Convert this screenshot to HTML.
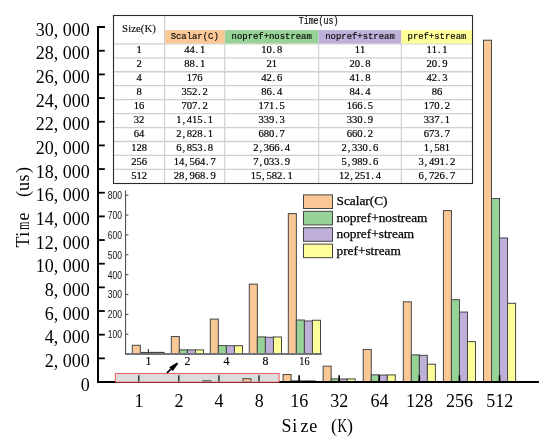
<!DOCTYPE html><html><head><meta charset="utf-8"><style>html,body{margin:0;padding:0;background:#fff;width:550px;height:446px;overflow:hidden}svg{display:block}.serif{font-family:"Liberation Serif","Noto Serif CJK SC",serif}.mono{font-family:"Liberation Mono","Noto Sans CJK SC",monospace}.sans{font-family:"Liberation Sans","Noto Sans CJK SC",sans-serif}</style></head><body>
<svg width="550" height="446" viewBox="0 0 550 446">
<rect width="550" height="446" fill="#fff"/>
<rect x="122.69" y="382.38" width="8.02" height="0.01" fill="#FAC896" stroke="#454545" stroke-width="1"/>
<rect x="130.71" y="382.77" width="8.02" height="0.01" fill="#97D397" stroke="#454545" stroke-width="1"/>
<rect x="138.73" y="382.77" width="8.02" height="0.01" fill="#BFB0DA" stroke="#454545" stroke-width="1"/>
<rect x="146.75" y="382.77" width="8.02" height="0.01" fill="#FFFF99" stroke="#454545" stroke-width="1"/>
<rect x="162.78" y="381.86" width="8.02" height="0.14" fill="#FAC896" stroke="#454545" stroke-width="1"/>
<rect x="170.80" y="382.65" width="8.02" height="0.01" fill="#97D397" stroke="#454545" stroke-width="1"/>
<rect x="178.82" y="382.65" width="8.02" height="0.01" fill="#BFB0DA" stroke="#454545" stroke-width="1"/>
<rect x="186.84" y="382.65" width="8.02" height="0.01" fill="#FFFF99" stroke="#454545" stroke-width="1"/>
<rect x="202.87" y="380.82" width="8.02" height="1.18" fill="#FAC896" stroke="#454545" stroke-width="1"/>
<rect x="210.89" y="382.40" width="8.02" height="0.01" fill="#97D397" stroke="#454545" stroke-width="1"/>
<rect x="218.91" y="382.41" width="8.02" height="0.01" fill="#BFB0DA" stroke="#454545" stroke-width="1"/>
<rect x="226.93" y="382.40" width="8.02" height="0.01" fill="#FFFF99" stroke="#454545" stroke-width="1"/>
<rect x="242.96" y="378.73" width="8.02" height="3.27" fill="#FAC896" stroke="#454545" stroke-width="1"/>
<rect x="250.98" y="381.88" width="8.02" height="0.12" fill="#97D397" stroke="#454545" stroke-width="1"/>
<rect x="259.00" y="381.90" width="8.02" height="0.10" fill="#BFB0DA" stroke="#454545" stroke-width="1"/>
<rect x="267.02" y="381.88" width="8.02" height="0.12" fill="#FFFF99" stroke="#454545" stroke-width="1"/>
<rect x="283.05" y="374.53" width="8.02" height="7.47" fill="#FAC896" stroke="#454545" stroke-width="1"/>
<rect x="291.07" y="380.87" width="8.02" height="1.13" fill="#97D397" stroke="#454545" stroke-width="1"/>
<rect x="299.09" y="380.93" width="8.02" height="1.07" fill="#BFB0DA" stroke="#454545" stroke-width="1"/>
<rect x="307.11" y="380.89" width="8.02" height="1.11" fill="#FFFF99" stroke="#454545" stroke-width="1"/>
<rect x="323.14" y="366.16" width="8.02" height="15.84" fill="#FAC896" stroke="#454545" stroke-width="1"/>
<rect x="331.16" y="378.89" width="8.02" height="3.11" fill="#97D397" stroke="#454545" stroke-width="1"/>
<rect x="339.18" y="378.99" width="8.02" height="3.01" fill="#BFB0DA" stroke="#454545" stroke-width="1"/>
<rect x="347.20" y="378.91" width="8.02" height="3.09" fill="#FFFF99" stroke="#454545" stroke-width="1"/>
<rect x="363.23" y="349.44" width="8.02" height="32.56" fill="#FAC896" stroke="#454545" stroke-width="1"/>
<rect x="371.25" y="374.85" width="8.02" height="7.15" fill="#97D397" stroke="#454545" stroke-width="1"/>
<rect x="379.27" y="375.09" width="8.02" height="6.91" fill="#BFB0DA" stroke="#454545" stroke-width="1"/>
<rect x="387.29" y="374.93" width="8.02" height="7.07" fill="#FFFF99" stroke="#454545" stroke-width="1"/>
<rect x="403.32" y="301.82" width="8.02" height="80.18" fill="#FAC896" stroke="#454545" stroke-width="1"/>
<rect x="411.34" y="354.91" width="8.02" height="27.09" fill="#97D397" stroke="#454545" stroke-width="1"/>
<rect x="419.36" y="355.33" width="8.02" height="26.67" fill="#BFB0DA" stroke="#454545" stroke-width="1"/>
<rect x="427.38" y="364.20" width="8.02" height="17.80" fill="#FFFF99" stroke="#454545" stroke-width="1"/>
<rect x="443.41" y="210.60" width="8.02" height="171.40" fill="#FAC896" stroke="#454545" stroke-width="1"/>
<rect x="451.43" y="299.69" width="8.02" height="82.31" fill="#97D397" stroke="#454545" stroke-width="1"/>
<rect x="459.45" y="312.04" width="8.02" height="69.96" fill="#BFB0DA" stroke="#454545" stroke-width="1"/>
<rect x="467.47" y="341.60" width="8.02" height="40.40" fill="#FFFF99" stroke="#454545" stroke-width="1"/>
<rect x="483.50" y="40.20" width="8.02" height="341.80" fill="#FAC896" stroke="#454545" stroke-width="1"/>
<rect x="491.52" y="198.56" width="8.02" height="183.44" fill="#97D397" stroke="#454545" stroke-width="1"/>
<rect x="499.54" y="237.97" width="8.02" height="144.03" fill="#BFB0DA" stroke="#454545" stroke-width="1"/>
<rect x="507.56" y="303.32" width="8.02" height="78.68" fill="#FFFF99" stroke="#454545" stroke-width="1"/>
<rect x="99" y="383" width="445" height="8" fill="#fff"/>
<line x1="138.73" y1="375.3" x2="138.73" y2="382" stroke="#000" stroke-width="1.6"/>
<line x1="178.82" y1="375.3" x2="178.82" y2="382" stroke="#000" stroke-width="1.6"/>
<line x1="218.91" y1="375.3" x2="218.91" y2="382" stroke="#000" stroke-width="1.6"/>
<line x1="259.00" y1="375.3" x2="259.00" y2="382" stroke="#000" stroke-width="1.6"/>
<line x1="299.09" y1="375.3" x2="299.09" y2="382" stroke="#000" stroke-width="1.6"/>
<line x1="339.18" y1="375.3" x2="339.18" y2="382" stroke="#000" stroke-width="1.6"/>
<line x1="379.27" y1="375.3" x2="379.27" y2="382" stroke="#000" stroke-width="1.6"/>
<line x1="419.36" y1="375.3" x2="419.36" y2="382" stroke="#000" stroke-width="1.6"/>
<line x1="459.45" y1="375.3" x2="459.45" y2="382" stroke="#000" stroke-width="1.6"/>
<line x1="499.54" y1="375.3" x2="499.54" y2="382" stroke="#000" stroke-width="1.6"/>
<path d="M104.8 27.1 H98 V382 H538.9" fill="none" stroke="#000" stroke-width="2"/>
<line x1="98" y1="382.00" x2="104.8" y2="382.00" stroke="#000" stroke-width="1.8"/>
<line x1="98" y1="358.34" x2="104.8" y2="358.34" stroke="#000" stroke-width="1.8"/>
<line x1="98" y1="334.68" x2="104.8" y2="334.68" stroke="#000" stroke-width="1.8"/>
<line x1="98" y1="311.02" x2="104.8" y2="311.02" stroke="#000" stroke-width="1.8"/>
<line x1="98" y1="287.36" x2="104.8" y2="287.36" stroke="#000" stroke-width="1.8"/>
<line x1="98" y1="263.70" x2="104.8" y2="263.70" stroke="#000" stroke-width="1.8"/>
<line x1="98" y1="240.04" x2="104.8" y2="240.04" stroke="#000" stroke-width="1.8"/>
<line x1="98" y1="216.38" x2="104.8" y2="216.38" stroke="#000" stroke-width="1.8"/>
<line x1="98" y1="192.72" x2="104.8" y2="192.72" stroke="#000" stroke-width="1.8"/>
<line x1="98" y1="169.06" x2="104.8" y2="169.06" stroke="#000" stroke-width="1.8"/>
<line x1="98" y1="145.40" x2="104.8" y2="145.40" stroke="#000" stroke-width="1.8"/>
<line x1="98" y1="121.74" x2="104.8" y2="121.74" stroke="#000" stroke-width="1.8"/>
<line x1="98" y1="98.08" x2="104.8" y2="98.08" stroke="#000" stroke-width="1.8"/>
<line x1="98" y1="74.42" x2="104.8" y2="74.42" stroke="#000" stroke-width="1.8"/>
<line x1="98" y1="50.76" x2="104.8" y2="50.76" stroke="#000" stroke-width="1.8"/>
<line x1="98" y1="27.10" x2="104.8" y2="27.10" stroke="#000" stroke-width="1.8"/>
<rect x="115.4" y="373.5" width="163.7" height="8.7" fill="#dcdcdc" stroke="rgba(235,50,50,0.7)" stroke-width="1.1"/>
<clipPath id="rc"><rect x="116" y="374" width="162.5" height="7.5"/></clipPath><g clip-path="url(#rc)">
<line x1="138.73" y1="375.3" x2="138.73" y2="382" stroke="#333" stroke-width="1.5"/>
<line x1="178.82" y1="375.3" x2="178.82" y2="382" stroke="#333" stroke-width="1.5"/>
<rect x="202.87" y="380.82" width="8.02" height="1.18" fill="#FAC896" stroke="#454545" stroke-width="1"/>
<line x1="218.91" y1="375.3" x2="218.91" y2="382" stroke="#333" stroke-width="1.5"/>
<rect x="242.96" y="378.73" width="8.02" height="3.27" fill="#FAC896" stroke="#454545" stroke-width="1"/>
<line x1="259.00" y1="375.3" x2="259.00" y2="382" stroke="#333" stroke-width="1.5"/>
</g>
<text class="serif" x="89.8" y="390.60" font-size="18" text-anchor="end" fill="#000">0</text>
<text class="serif" x="89.8" y="366.94" font-size="18" text-anchor="end" fill="#000">2,<tspan dx="4.5">000</tspan></text>
<text class="serif" x="89.8" y="343.28" font-size="18" text-anchor="end" fill="#000">4,<tspan dx="4.5">000</tspan></text>
<text class="serif" x="89.8" y="319.62" font-size="18" text-anchor="end" fill="#000">6,<tspan dx="4.5">000</tspan></text>
<text class="serif" x="89.8" y="295.96" font-size="18" text-anchor="end" fill="#000">8,<tspan dx="4.5">000</tspan></text>
<text class="serif" x="89.8" y="272.30" font-size="18" text-anchor="end" fill="#000">10,<tspan dx="4.5">000</tspan></text>
<text class="serif" x="89.8" y="248.64" font-size="18" text-anchor="end" fill="#000">12,<tspan dx="4.5">000</tspan></text>
<text class="serif" x="89.8" y="224.98" font-size="18" text-anchor="end" fill="#000">14,<tspan dx="4.5">000</tspan></text>
<text class="serif" x="89.8" y="201.32" font-size="18" text-anchor="end" fill="#000">16,<tspan dx="4.5">000</tspan></text>
<text class="serif" x="89.8" y="177.66" font-size="18" text-anchor="end" fill="#000">18,<tspan dx="4.5">000</tspan></text>
<text class="serif" x="89.8" y="154.00" font-size="18" text-anchor="end" fill="#000">20,<tspan dx="4.5">000</tspan></text>
<text class="serif" x="89.8" y="130.34" font-size="18" text-anchor="end" fill="#000">22,<tspan dx="4.5">000</tspan></text>
<text class="serif" x="89.8" y="106.68" font-size="18" text-anchor="end" fill="#000">24,<tspan dx="4.5">000</tspan></text>
<text class="serif" x="89.8" y="83.02" font-size="18" text-anchor="end" fill="#000">26,<tspan dx="4.5">000</tspan></text>
<text class="serif" x="89.8" y="59.36" font-size="18" text-anchor="end" fill="#000">28,<tspan dx="4.5">000</tspan></text>
<text class="serif" x="89.8" y="35.70" font-size="18" text-anchor="end" fill="#000">30,<tspan dx="4.5">000</tspan></text>
<text class="serif" x="138.88" y="406.8" font-size="18" text-anchor="middle" fill="#000">1</text>
<text class="serif" x="178.97" y="406.8" font-size="18" text-anchor="middle" fill="#000">2</text>
<text class="serif" x="219.06" y="406.8" font-size="18" text-anchor="middle" fill="#000">4</text>
<text class="serif" x="259.15" y="406.8" font-size="18" text-anchor="middle" fill="#000">8</text>
<text class="serif" x="299.24" y="406.8" font-size="18" text-anchor="middle" fill="#000">16</text>
<text class="serif" x="339.33" y="406.8" font-size="18" text-anchor="middle" fill="#000">32</text>
<text class="serif" x="379.42" y="406.8" font-size="18" text-anchor="middle" fill="#000">64</text>
<text class="serif" x="419.51" y="406.8" font-size="18" text-anchor="middle" fill="#000">128</text>
<text class="serif" x="459.60" y="406.8" font-size="18" text-anchor="middle" fill="#000">256</text>
<text class="serif" x="499.69" y="406.8" font-size="18" text-anchor="middle" fill="#000">512</text>
<text class="serif" y="431.8" font-size="18" fill="#000"><tspan x="281.4">S</tspan><tspan x="292.25">i</tspan><tspan x="300.45">z</tspan><tspan x="309.25">e</tspan> <tspan x="331.05">(</tspan><tspan x="337.5" textLength="9.5" lengthAdjust="spacingAndGlyphs">K</tspan><tspan x="347.0">)</tspan></text>
<text class="serif" transform="translate(29.3 247.6) rotate(-90)" y="0" font-size="18" fill="#000"><tspan x="0">T</tspan><tspan x="10.8">i</tspan><tspan x="17.75" textLength="8.1" lengthAdjust="spacingAndGlyphs">m</tspan><tspan x="27.05">e</tspan> <tspan x="50.6">(</tspan><tspan x="56.65">u</tspan><tspan x="66.04">s</tspan><tspan x="74.6">)</tspan></text>
<rect x="132.30" y="345.30" width="8.05" height="8.76" fill="#FAC896" stroke="#454545" stroke-width="1"/>
<rect x="140.20" y="351.92" width="8.35" height="2.14" fill="#454545"/>
<rect x="148.25" y="351.88" width="8.35" height="2.18" fill="#454545"/>
<rect x="156.30" y="351.86" width="8.35" height="2.20" fill="#454545"/>
<rect x="171.30" y="336.57" width="8.05" height="17.49" fill="#FAC896" stroke="#454545" stroke-width="1"/>
<rect x="179.35" y="349.89" width="8.05" height="4.17" fill="#97D397" stroke="#454545" stroke-width="1"/>
<rect x="187.40" y="349.93" width="8.05" height="4.13" fill="#BFB0DA" stroke="#454545" stroke-width="1"/>
<rect x="195.45" y="349.91" width="8.05" height="4.15" fill="#FFFF99" stroke="#454545" stroke-width="1"/>
<rect x="210.30" y="319.11" width="8.05" height="34.95" fill="#FAC896" stroke="#454545" stroke-width="1"/>
<rect x="218.35" y="345.60" width="8.05" height="8.46" fill="#97D397" stroke="#454545" stroke-width="1"/>
<rect x="226.40" y="345.76" width="8.05" height="8.30" fill="#BFB0DA" stroke="#454545" stroke-width="1"/>
<rect x="234.45" y="345.66" width="8.05" height="8.40" fill="#FFFF99" stroke="#454545" stroke-width="1"/>
<rect x="249.30" y="284.12" width="8.05" height="69.94" fill="#FAC896" stroke="#454545" stroke-width="1"/>
<rect x="257.35" y="336.90" width="8.05" height="17.16" fill="#97D397" stroke="#454545" stroke-width="1"/>
<rect x="265.40" y="337.30" width="8.05" height="16.76" fill="#BFB0DA" stroke="#454545" stroke-width="1"/>
<rect x="273.45" y="336.98" width="8.05" height="17.08" fill="#FFFF99" stroke="#454545" stroke-width="1"/>
<rect x="288.30" y="213.63" width="8.05" height="140.43" fill="#FAC896" stroke="#454545" stroke-width="1"/>
<rect x="296.35" y="320.01" width="8.05" height="34.05" fill="#97D397" stroke="#454545" stroke-width="1"/>
<rect x="304.40" y="321.00" width="8.05" height="33.06" fill="#BFB0DA" stroke="#454545" stroke-width="1"/>
<rect x="312.45" y="320.26" width="8.05" height="33.80" fill="#FFFF99" stroke="#454545" stroke-width="1"/>
<line x1="125" y1="354.05" x2="321.8" y2="354.05" stroke="#74747c" stroke-width="2"/>
<line x1="148.4" y1="348.9" x2="148.4" y2="353" stroke="#333" stroke-width="1.1"/>
<line x1="125.6" y1="190.4" x2="125.6" y2="354" stroke="#444" stroke-width="1"/>
<line x1="125.6" y1="334.20" x2="128.4" y2="334.20" stroke="#444" stroke-width="1"/>
<text class="sans" x="122" y="338.10" font-size="10.6" text-anchor="end" fill="#111" textLength="14.2" lengthAdjust="spacingAndGlyphs">100</text>
<line x1="125.6" y1="314.35" x2="128.4" y2="314.35" stroke="#444" stroke-width="1"/>
<text class="sans" x="122" y="318.25" font-size="10.6" text-anchor="end" fill="#111" textLength="14.2" lengthAdjust="spacingAndGlyphs">200</text>
<line x1="125.6" y1="294.49" x2="128.4" y2="294.49" stroke="#444" stroke-width="1"/>
<text class="sans" x="122" y="298.39" font-size="10.6" text-anchor="end" fill="#111" textLength="14.2" lengthAdjust="spacingAndGlyphs">300</text>
<line x1="125.6" y1="274.63" x2="128.4" y2="274.63" stroke="#444" stroke-width="1"/>
<text class="sans" x="122" y="278.53" font-size="10.6" text-anchor="end" fill="#111" textLength="14.2" lengthAdjust="spacingAndGlyphs">400</text>
<line x1="125.6" y1="254.78" x2="128.4" y2="254.78" stroke="#444" stroke-width="1"/>
<text class="sans" x="122" y="258.68" font-size="10.6" text-anchor="end" fill="#111" textLength="14.2" lengthAdjust="spacingAndGlyphs">500</text>
<line x1="125.6" y1="234.92" x2="128.4" y2="234.92" stroke="#444" stroke-width="1"/>
<text class="sans" x="122" y="238.82" font-size="10.6" text-anchor="end" fill="#111" textLength="14.2" lengthAdjust="spacingAndGlyphs">600</text>
<line x1="125.6" y1="215.06" x2="128.4" y2="215.06" stroke="#444" stroke-width="1"/>
<text class="sans" x="122" y="218.96" font-size="10.6" text-anchor="end" fill="#111" textLength="14.2" lengthAdjust="spacingAndGlyphs">700</text>
<line x1="125.6" y1="195.20" x2="128.4" y2="195.20" stroke="#444" stroke-width="1"/>
<text class="sans" x="122" y="199.10" font-size="10.6" text-anchor="end" fill="#111" textLength="14.2" lengthAdjust="spacingAndGlyphs">800</text>
<text class="serif" x="148.40" y="365.3" font-size="11.8" text-anchor="middle" fill="#000" stroke="#000" stroke-width="0.15">1</text>
<text class="serif" x="187.40" y="365.3" font-size="11.8" text-anchor="middle" fill="#000" stroke="#000" stroke-width="0.15">2</text>
<text class="serif" x="226.40" y="365.3" font-size="11.8" text-anchor="middle" fill="#000" stroke="#000" stroke-width="0.15">4</text>
<text class="serif" x="265.40" y="365.3" font-size="11.8" text-anchor="middle" fill="#000" stroke="#000" stroke-width="0.15">8</text>
<text class="serif" x="304.40" y="365.3" font-size="11.8" text-anchor="middle" fill="#000" stroke="#000" stroke-width="0.15" textLength="10.2" lengthAdjust="spacingAndGlyphs">16</text>
<line x1="167.5" y1="372.4" x2="171" y2="369.2" stroke="#000" stroke-width="1.8" stroke-linecap="round"/>
<path d="M169.2 367.3 L176.6 362.7 Q178.4 362.6 178 364 L172.8 371.1 Z" fill="#000"/>
<rect x="303.5" y="194.90" width="29" height="13.6" fill="#FAC896" stroke="#454545" stroke-width="1"/>
<text class="serif" x="336.5" y="205.30" font-size="13.3" fill="#000" stroke="#000" stroke-width="0.25">Scalar(C)</text>
<rect x="303.5" y="211.30" width="29" height="13.6" fill="#97D397" stroke="#454545" stroke-width="1"/>
<text class="serif" x="336.5" y="221.70" font-size="13.3" fill="#000" stroke="#000" stroke-width="0.25">nopref+nostream</text>
<rect x="303.5" y="227.70" width="29" height="13.6" fill="#BFB0DA" stroke="#454545" stroke-width="1"/>
<text class="serif" x="336.5" y="238.10" font-size="13.3" fill="#000" stroke="#000" stroke-width="0.25">nopref+stream</text>
<rect x="303.5" y="244.10" width="29" height="13.6" fill="#FFFF99" stroke="#454545" stroke-width="1"/>
<text class="serif" x="336.5" y="254.50" font-size="13.3" fill="#000" stroke="#000" stroke-width="0.25">pref+stream</text>
<rect x="113.5" y="15.5" width="359.0" height="168.00" fill="#fff"/>
<line x1="113.5" y1="43.85" x2="472.5" y2="43.85" stroke="#d0d0d0" stroke-width="1.3"/>
<line x1="113.5" y1="57.80" x2="472.5" y2="57.80" stroke="#d0d0d0" stroke-width="1.3"/>
<line x1="113.5" y1="71.75" x2="472.5" y2="71.75" stroke="#d0d0d0" stroke-width="1.3"/>
<line x1="113.5" y1="85.70" x2="472.5" y2="85.70" stroke="#d0d0d0" stroke-width="1.3"/>
<line x1="113.5" y1="99.65" x2="472.5" y2="99.65" stroke="#d0d0d0" stroke-width="1.3"/>
<line x1="113.5" y1="113.60" x2="472.5" y2="113.60" stroke="#d0d0d0" stroke-width="1.3"/>
<line x1="113.5" y1="127.55" x2="472.5" y2="127.55" stroke="#d0d0d0" stroke-width="1.3"/>
<line x1="113.5" y1="141.50" x2="472.5" y2="141.50" stroke="#d0d0d0" stroke-width="1.3"/>
<line x1="113.5" y1="155.45" x2="472.5" y2="155.45" stroke="#d0d0d0" stroke-width="1.3"/>
<line x1="113.5" y1="169.40" x2="472.5" y2="169.40" stroke="#d0d0d0" stroke-width="1.3"/>
<line x1="164.6" y1="15.5" x2="164.6" y2="183.3" stroke="#d0d0d0" stroke-width="1.2"/>
<line x1="224.8" y1="43.85" x2="224.8" y2="183.3" stroke="#d0d0d0" stroke-width="1.2"/>
<line x1="318.6" y1="43.85" x2="318.6" y2="183.3" stroke="#d0d0d0" stroke-width="1.2"/>
<line x1="401.4" y1="43.85" x2="401.4" y2="183.3" stroke="#d0d0d0" stroke-width="1.2"/>
<rect x="165.20" y="30.1" width="59.60" height="13.40" fill="#FAC896"/>
<rect x="224.80" y="30.1" width="93.80" height="13.40" fill="#97D397"/>
<rect x="318.60" y="30.1" width="82.80" height="13.40" fill="#BFB0DA"/>
<rect x="401.40" y="30.1" width="71.10" height="13.40" fill="#FFFF99"/>
<rect x="113.5" y="15.5" width="359.0" height="168.00" fill="none" stroke="#2a2a2a" stroke-width="1.1"/>
<text class="serif" x="139.05" y="31.8" font-size="10.9" text-anchor="middle" fill="#000" stroke="#000" stroke-width="0.1">Size(K)</text>
<text class="mono" x="318.55" y="24.4" font-size="10.6" text-anchor="middle" fill="#000" stroke="#000" stroke-width="0.15" textLength="39.6" lengthAdjust="spacingAndGlyphs">Time(us)</text>
<text class="mono" x="194.70" y="39.3" font-size="9.8" text-anchor="middle" fill="#000" stroke="#000" stroke-width="0.15" textLength="48.1" lengthAdjust="spacingAndGlyphs">Scalar(C)</text>
<text class="mono" x="271.70" y="39.3" font-size="9.8" text-anchor="middle" fill="#000" stroke="#000" stroke-width="0.15" textLength="80.2" lengthAdjust="spacingAndGlyphs">nopref+nostream</text>
<text class="mono" x="360.00" y="39.3" font-size="9.8" text-anchor="middle" fill="#000" stroke="#000" stroke-width="0.15" textLength="69.5" lengthAdjust="spacingAndGlyphs">nopref+stream</text>
<text class="mono" x="436.95" y="39.3" font-size="9.8" text-anchor="middle" fill="#000" stroke="#000" stroke-width="0.15" textLength="58.8" lengthAdjust="spacingAndGlyphs">pref+stream</text>
<text class="serif" x="136.40" y="53.15" font-size="10.6" fill="#000" stroke="#000" stroke-width="0.2">1</text>
<text class="serif" x="184.17 189.42 195.50 199.92" y="53.15" font-size="10.6" fill="#000" stroke="#000" stroke-width="0.2">44.1</text>
<text class="serif" x="261.18 266.43 272.50 276.93" y="53.15" font-size="10.6" fill="#000" stroke="#000" stroke-width="0.2">10.8</text>
<text class="serif" x="354.73 359.98" y="53.15" font-size="10.6" fill="#000" stroke="#000" stroke-width="0.2">11</text>
<text class="serif" x="426.43 431.68 437.75 442.18" y="53.15" font-size="10.6" fill="#000" stroke="#000" stroke-width="0.2">11.1</text>
<text class="serif" x="136.40" y="67.10" font-size="10.6" fill="#000" stroke="#000" stroke-width="0.2">2</text>
<text class="serif" x="184.17 189.42 195.50 199.92" y="67.10" font-size="10.6" fill="#000" stroke="#000" stroke-width="0.2">88.1</text>
<text class="serif" x="266.43 271.68" y="67.10" font-size="10.6" fill="#000" stroke="#000" stroke-width="0.2">21</text>
<text class="serif" x="349.48 354.73 360.80 365.23" y="67.10" font-size="10.6" fill="#000" stroke="#000" stroke-width="0.2">20.8</text>
<text class="serif" x="426.43 431.68 437.75 442.18" y="67.10" font-size="10.6" fill="#000" stroke="#000" stroke-width="0.2">20.9</text>
<text class="serif" x="136.40" y="81.05" font-size="10.6" fill="#000" stroke="#000" stroke-width="0.2">4</text>
<text class="serif" x="186.80 192.05 197.30" y="81.05" font-size="10.6" fill="#000" stroke="#000" stroke-width="0.2">176</text>
<text class="serif" x="261.18 266.43 272.50 276.93" y="81.05" font-size="10.6" fill="#000" stroke="#000" stroke-width="0.2">42.6</text>
<text class="serif" x="349.48 354.73 360.80 365.23" y="81.05" font-size="10.6" fill="#000" stroke="#000" stroke-width="0.2">41.8</text>
<text class="serif" x="426.43 431.68 437.75 442.18" y="81.05" font-size="10.6" fill="#000" stroke="#000" stroke-width="0.2">42.3</text>
<text class="serif" x="136.40" y="95.00" font-size="10.6" fill="#000" stroke="#000" stroke-width="0.2">8</text>
<text class="serif" x="181.55 186.80 192.05 198.12 202.55" y="95.00" font-size="10.6" fill="#000" stroke="#000" stroke-width="0.2">352.2</text>
<text class="serif" x="261.18 266.43 272.50 276.93" y="95.00" font-size="10.6" fill="#000" stroke="#000" stroke-width="0.2">86.4</text>
<text class="serif" x="349.48 354.73 360.80 365.23" y="95.00" font-size="10.6" fill="#000" stroke="#000" stroke-width="0.2">84.4</text>
<text class="serif" x="431.68 436.93" y="95.00" font-size="10.6" fill="#000" stroke="#000" stroke-width="0.2">86</text>
<text class="serif" x="133.78 139.03" y="108.95" font-size="10.6" fill="#000" stroke="#000" stroke-width="0.2">16</text>
<text class="serif" x="181.55 186.80 192.05 198.12 202.55" y="108.95" font-size="10.6" fill="#000" stroke="#000" stroke-width="0.2">707.2</text>
<text class="serif" x="258.55 263.80 269.05 275.13 279.55" y="108.95" font-size="10.6" fill="#000" stroke="#000" stroke-width="0.2">171.5</text>
<text class="serif" x="346.85 352.10 357.35 363.43 367.85" y="108.95" font-size="10.6" fill="#000" stroke="#000" stroke-width="0.2">166.5</text>
<text class="serif" x="423.80 429.05 434.30 440.38 444.80" y="108.95" font-size="10.6" fill="#000" stroke="#000" stroke-width="0.2">170.2</text>
<text class="serif" x="133.78 139.03" y="122.90" font-size="10.6" fill="#000" stroke="#000" stroke-width="0.2">32</text>
<text class="serif" x="176.30 182.38 186.80 192.05 197.30 203.38 207.80" y="122.90" font-size="10.6" fill="#000" stroke="#000" stroke-width="0.2">1,415.1</text>
<text class="serif" x="258.55 263.80 269.05 275.13 279.55" y="122.90" font-size="10.6" fill="#000" stroke="#000" stroke-width="0.2">339.3</text>
<text class="serif" x="346.85 352.10 357.35 363.43 367.85" y="122.90" font-size="10.6" fill="#000" stroke="#000" stroke-width="0.2">330.9</text>
<text class="serif" x="423.80 429.05 434.30 440.38 444.80" y="122.90" font-size="10.6" fill="#000" stroke="#000" stroke-width="0.2">337.1</text>
<text class="serif" x="133.78 139.03" y="136.85" font-size="10.6" fill="#000" stroke="#000" stroke-width="0.2">64</text>
<text class="serif" x="176.30 182.38 186.80 192.05 197.30 203.38 207.80" y="136.85" font-size="10.6" fill="#000" stroke="#000" stroke-width="0.2">2,828.1</text>
<text class="serif" x="258.55 263.80 269.05 275.13 279.55" y="136.85" font-size="10.6" fill="#000" stroke="#000" stroke-width="0.2">680.7</text>
<text class="serif" x="346.85 352.10 357.35 363.43 367.85" y="136.85" font-size="10.6" fill="#000" stroke="#000" stroke-width="0.2">660.2</text>
<text class="serif" x="423.80 429.05 434.30 440.38 444.80" y="136.85" font-size="10.6" fill="#000" stroke="#000" stroke-width="0.2">673.7</text>
<text class="serif" x="131.15 136.40 141.65" y="150.80" font-size="10.6" fill="#000" stroke="#000" stroke-width="0.2">128</text>
<text class="serif" x="176.30 182.38 186.80 192.05 197.30 203.38 207.80" y="150.80" font-size="10.6" fill="#000" stroke="#000" stroke-width="0.2">6,853.8</text>
<text class="serif" x="253.30 259.38 263.80 269.05 274.30 280.38 284.80" y="150.80" font-size="10.6" fill="#000" stroke="#000" stroke-width="0.2">2,366.4</text>
<text class="serif" x="341.60 347.68 352.10 357.35 362.60 368.68 373.10" y="150.80" font-size="10.6" fill="#000" stroke="#000" stroke-width="0.2">2,330.6</text>
<text class="serif" x="423.80 429.88 434.30 439.55 444.80" y="150.80" font-size="10.6" fill="#000" stroke="#000" stroke-width="0.2">1,581</text>
<text class="serif" x="131.15 136.40 141.65" y="164.75" font-size="10.6" fill="#000" stroke="#000" stroke-width="0.2">256</text>
<text class="serif" x="173.67 178.92 185.00 189.42 194.67 199.92 206.00 210.42" y="164.75" font-size="10.6" fill="#000" stroke="#000" stroke-width="0.2">14,564.7</text>
<text class="serif" x="253.30 259.38 263.80 269.05 274.30 280.38 284.80" y="164.75" font-size="10.6" fill="#000" stroke="#000" stroke-width="0.2">7,033.9</text>
<text class="serif" x="341.60 347.68 352.10 357.35 362.60 368.68 373.10" y="164.75" font-size="10.6" fill="#000" stroke="#000" stroke-width="0.2">5,989.6</text>
<text class="serif" x="418.55 424.62 429.05 434.30 439.55 445.62 450.05" y="164.75" font-size="10.6" fill="#000" stroke="#000" stroke-width="0.2">3,491.2</text>
<text class="serif" x="131.15 136.40 141.65" y="178.70" font-size="10.6" fill="#000" stroke="#000" stroke-width="0.2">512</text>
<text class="serif" x="173.67 178.92 185.00 189.42 194.67 199.92 206.00 210.42" y="178.70" font-size="10.6" fill="#000" stroke="#000" stroke-width="0.2">28,968.9</text>
<text class="serif" x="250.68 255.93 262.00 266.43 271.68 276.93 283.00 287.43" y="178.70" font-size="10.6" fill="#000" stroke="#000" stroke-width="0.2">15,582.1</text>
<text class="serif" x="338.98 344.23 350.30 354.73 359.98 365.23 371.30 375.73" y="178.70" font-size="10.6" fill="#000" stroke="#000" stroke-width="0.2">12,251.4</text>
<text class="serif" x="418.55 424.62 429.05 434.30 439.55 445.62 450.05" y="178.70" font-size="10.6" fill="#000" stroke="#000" stroke-width="0.2">6,726.7</text>
</svg></body></html>
